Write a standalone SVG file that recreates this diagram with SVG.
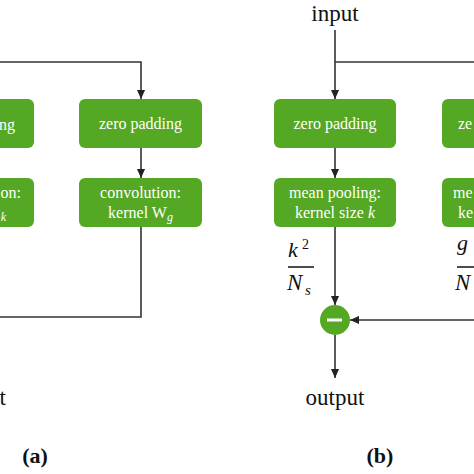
<svg xmlns="http://www.w3.org/2000/svg" width="474" height="474" viewBox="0 0 474 474">
<defs>
<marker id="ah" viewBox="0 0 10 10" refX="10" refY="5" markerWidth="9" markerHeight="9" markerUnits="userSpaceOnUse" orient="auto">
<path d="M0,0.5 L10,5 L0,9.5 z" fill="#222"/>
</marker>
<style>
.box{fill:#54a824;}
.bt{font-family:"Liberation Serif","Times New Roman",serif;font-size:16px;fill:#fff;text-anchor:middle;}
.ln{fill:none;stroke:#333;stroke-width:1.6;}
.ar{fill:none;stroke:#333;stroke-width:1.6;marker-end:url(#ah);}
.lb{font-family:"Liberation Serif","Times New Roman",serif;font-size:23px;fill:#111;text-anchor:middle;}
.cap{font-family:"Liberation Serif","Times New Roman",serif;font-size:22px;font-weight:bold;fill:#111;text-anchor:middle;}
.m{font-family:"Liberation Serif","Times New Roman",serif;font-style:italic;fill:#111;}
</style>
</defs>
<rect width="474" height="474" fill="#fff"/>

<g id="connectors">
<polyline class="ar" points="0,62 141,62 141,99"/>
<line class="ar" x1="141" y1="148" x2="141" y2="178"/>
<polyline class="ln" points="141,227 141,317 0,317"/>
<line class="ar" x1="335" y1="30" x2="335" y2="99"/>
<line class="ln" x1="335" y1="62" x2="474" y2="62"/>
<line class="ar" x1="335" y1="148" x2="335" y2="178"/>
<line class="ar" x1="335" y1="227" x2="335" y2="305"/>
<line class="ar" x1="474" y1="320" x2="350" y2="320"/>
<line class="ar" x1="335" y1="335" x2="335" y2="378"/>
</g>

<g id="a-left-pad">
<rect class="box" x="-30" y="99" width="64" height="49" rx="6"/>
<text class="bt" x="15" y="130" style="text-anchor:end">ng</text>
</g>
<g id="a-left-conv">
<rect class="box" x="-30" y="178" width="64" height="49" rx="6"/>
<text class="bt" x="0.5" y="198" style="text-anchor:start">on:</text>
<text class="bt" x="6" y="221" style="text-anchor:end;font-style:italic;font-size:12px">k</text>
</g>
<g id="a-pad">
<rect class="box" x="79" y="99" width="123" height="49" rx="6"/>
<text class="bt" x="140.5" y="129">zero padding</text>
</g>
<g id="a-conv">
<rect class="box" x="79" y="178" width="123" height="49" rx="6"/>
<text class="bt" x="140.5" y="198">convolution:</text>
<text class="bt" x="140.5" y="218">kernel W<tspan font-style="italic" font-size="12" dy="3">g</tspan></text>
</g>
<g id="a-output">
<text class="lb" x="6" y="405" style="text-anchor:end">t</text>
</g>
<g id="a-caption">
<text class="cap" x="35" y="463">(a)</text>
</g>

<g id="b-input">
<text class="lb" x="335" y="21">input</text>
</g>
<g id="b-pad">
<rect class="box" x="274" y="99" width="122" height="49" rx="6"/>
<text class="bt" x="335" y="129">zero padding</text>
</g>
<g id="b-pool">
<rect class="box" x="274" y="178" width="122" height="49" rx="6"/>
<text class="bt" x="335" y="198">mean pooling:</text>
<text class="bt" x="335" y="218">kernel size <tspan font-style="italic">k</tspan></text>
</g>
<g id="b-frac">
<text class="m" x="288" y="257" font-size="22">k</text>
<text x="302" y="249" font-size="14" font-family="Liberation Serif, serif" fill="#111">2</text>
<line x1="288" y1="267" x2="314" y2="267" stroke="#111" stroke-width="1.5"/>
<text class="m" x="287" y="290" font-size="23">N</text>
<text class="m" x="305" y="295" font-size="15">s</text>
</g>
<g id="b-sub">
<circle cx="335" cy="320" r="15" fill="#54a824"/>
<rect x="327" y="318.5" width="15" height="3" fill="#fff"/>
</g>
<g id="b-output">
<text class="lb" x="335" y="405">output</text>
</g>
<g id="b-right-pad">
<rect class="box" x="442" y="99" width="64" height="49" rx="6"/>
<text class="bt" x="458" y="129" style="text-anchor:start">ze</text>
</g>
<g id="b-right-pool">
<rect class="box" x="442" y="178" width="64" height="49" rx="6"/>
<text class="bt" x="453" y="198" style="text-anchor:start">me</text>
<text class="bt" x="458" y="218" style="text-anchor:start">ke</text>
</g>
<g id="b-right-frac">
<text class="m" x="457" y="250" font-size="22">g</text>
<line x1="457" y1="267" x2="474" y2="267" stroke="#111" stroke-width="1.5"/>
<text class="m" x="455" y="290" font-size="23">N</text>
</g>
<g id="b-caption">
<text class="cap" x="380" y="463">(b)</text>
</g>
</svg>
